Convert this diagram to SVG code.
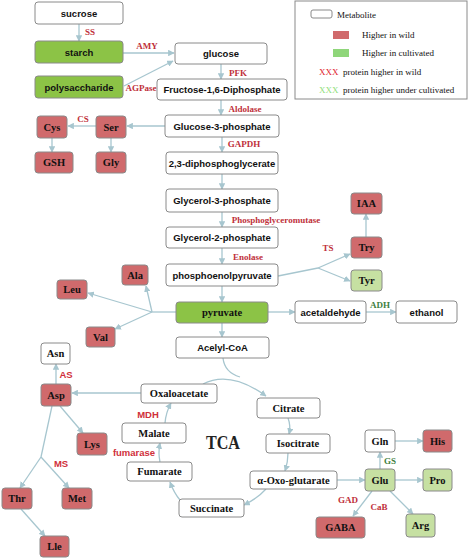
<svg xmlns="http://www.w3.org/2000/svg" width="474" height="560" viewBox="0 0 474 560">
<style>
.b{stroke:#8a8a8a;stroke-width:1;fill:#fff}
.r{fill:#d06a6c}
.g{fill:#8cc346}
.lg{fill:#c6e0a2}
.s{font-family:"Liberation Sans",Arial,sans-serif;font-weight:bold;font-size:9.5px;fill:#111;text-anchor:middle}
.t{font-family:"Liberation Serif","Times New Roman",serif;font-weight:bold;font-size:10.5px;fill:#111;text-anchor:middle}
.le{font-family:"Liberation Serif","Times New Roman",serif;font-weight:bold;font-size:9px;fill:#c0303a;text-anchor:middle}
.ls{font-family:"Liberation Sans",Arial,sans-serif;font-weight:bold;font-size:9.5px;fill:#d0303a;text-anchor:middle}
.lgt{font-family:"Liberation Serif","Times New Roman",serif;font-weight:bold;font-size:9px;fill:#3f7f3f;text-anchor:middle}
.lt{font-family:"Liberation Serif","Times New Roman",serif;font-size:9px;fill:#111}
.c path,.c line,.c polyline{stroke:#a7c6cf;stroke-width:1.3;fill:none}
.a{marker-end:url(#ah)}
</style>
<defs>
<marker id="ah" viewBox="0 0 10 10" refX="9" refY="5" markerWidth="5" markerHeight="5" orient="auto" markerUnits="strokeWidth">
<path d="M0,0 L10,5 L0,10 z" fill="#a7c6cf"/>
</marker>
</defs>
<rect width="474" height="560" fill="#fff"/>

<g id="legend">
<rect x="295" y="1" width="172" height="98" fill="#fff" stroke="#8a8a8a" stroke-width="1"/>
<rect x="311" y="10" width="21" height="8" rx="2" class="b"/>
<text x="337" y="18" class="lt">Metabolite</text>
<rect x="333" y="31" width="16" height="8" class="r"/>
<text x="362" y="38" class="lt">Higher in wild</text>
<rect x="333" y="49" width="16" height="8" fill="#8fd67a"/>
<text x="362" y="56" class="lt">Higher in cultivated</text>
<text x="319" y="75" class="lt" style="fill:#e0202a">XXX</text>
<text x="343" y="75" class="lt">protein higher in wild</text>
<text x="319" y="93" class="lt" style="fill:#8fe07a">XXX</text>
<text x="343" y="93" class="lt">protein higher under cultivated</text>
</g>

<g class="c" id="connectors">
<line x1="79" y1="24" x2="79" y2="41" class="a"/>
<line x1="123" y1="53" x2="174" y2="53" class="a"/>
<line x1="124" y1="86" x2="173" y2="61" class="a"/>
<line x1="221" y1="64" x2="221" y2="79" class="a"/>
<line x1="221" y1="100" x2="221" y2="115" class="a"/>
<line x1="165" y1="126" x2="127" y2="126" class="a"/>
<line x1="96" y1="126" x2="68" y2="126" class="a"/>
<line x1="52" y1="138" x2="52" y2="152" class="a"/>
<line x1="111" y1="138" x2="111" y2="152" class="a"/>
<line x1="222" y1="137" x2="222" y2="152" class="a"/>
<line x1="222" y1="174" x2="222" y2="189" class="a"/>
<line x1="222" y1="212" x2="222" y2="227" class="a"/>
<line x1="222" y1="248" x2="222" y2="264" class="a"/>
<polyline points="278,276 318,268"/>
<line x1="318" y1="268" x2="350" y2="254" class="a"/>
<line x1="318" y1="268" x2="350" y2="281" class="a"/>
<line x1="366" y1="237" x2="366" y2="214" class="a"/>
<line x1="222" y1="286" x2="222" y2="302" class="a"/>
<line x1="268" y1="312" x2="295" y2="312" class="a"/>
<line x1="366" y1="312" x2="396" y2="312" class="a"/>
<line x1="222" y1="323" x2="222" y2="337" class="a"/>
<polyline points="176,312 152,312"/>
<line x1="152" y1="312" x2="88" y2="293" class="a"/>
<line x1="152" y1="312" x2="146" y2="286" class="a"/>
<line x1="152" y1="312" x2="115" y2="329" class="a"/>
<path d="M223,358 C224,368 230,374 240,377"/>
<path d="M203,384 Q230,370 266,396" class="a"/>
<path d="M288,418 Q291,426 289,434" class="a"/>
<path d="M288,453 Q288,462 285,471" class="a"/>
<path d="M266,489 Q258,498 244,505" class="a"/>
<path d="M180,500 Q174,493 170,482" class="a"/>
<path d="M160,462 Q158,453 160,443" class="a"/>
<path d="M165,423 Q166,412 171,403" class="a"/>
<line x1="141" y1="393" x2="72" y2="393" class="a"/>
<line x1="56" y1="384" x2="56" y2="364" class="a"/>
<line x1="60" y1="406" x2="83" y2="433" class="a"/>
<polyline points="52,406 41,457"/>
<line x1="41" y1="457" x2="20" y2="488" class="a"/>
<line x1="41" y1="457" x2="69" y2="488" class="a"/>
<line x1="21" y1="509" x2="45" y2="536" class="a"/>
<line x1="337" y1="480" x2="365" y2="480" class="a"/>
<line x1="380" y1="469" x2="380" y2="452" class="a"/>
<line x1="395" y1="441" x2="423" y2="441" class="a"/>
<line x1="395" y1="480" x2="423" y2="480" class="a"/>
<line x1="372" y1="491" x2="353" y2="516" class="a"/>
<line x1="390" y1="491" x2="413" y2="514" class="a"/>
</g>

<g id="labels">
<text x="90" y="35" class="le">SS</text>
<text x="147" y="49" class="le">AMY</text>
<text x="141" y="91" class="le">AGPase</text>
<text x="238" y="76" class="le">PFK</text>
<text x="245" y="112" class="le">Aldolase</text>
<text x="83" y="122" class="le">CS</text>
<text x="244" y="147" class="le">GAPDH</text>
<text x="276" y="223" class="le">Phosphoglyceromutase</text>
<text x="248" y="260" class="le">Enolase</text>
<text x="328" y="251" class="le">TS</text>
<text x="380" y="308" class="lgt">ADH</text>
<text x="66" y="378" class="ls">AS</text>
<text x="148" y="418" class="ls">MDH</text>
<text x="134" y="456" class="ls">fumarase</text>
<text x="61" y="467" class="ls">MS</text>
<text x="390" y="464" class="lgt">GS</text>
<text x="348" y="503" class="le">GAD</text>
<text x="379" y="510" class="le">CaB</text>
<text x="223" y="449" font-family="Liberation Serif,Times New Roman,serif" font-weight="bold" font-size="19" fill="#222" text-anchor="middle" textLength="34" lengthAdjust="spacingAndGlyphs">TCA</text>
</g>

<g id="sucrose"><rect x="35" y="2" width="88" height="22" rx="3" class="b"/><text x="79" y="16.5" class="s">sucrose</text></g>
<g id="starch"><rect x="35" y="41" width="88" height="22" rx="3" class="b g"/><text x="79" y="55.5" class="s">starch</text></g>
<g id="polysaccharide"><rect x="35" y="76" width="88" height="22" rx="3" class="b g"/><text x="79" y="90.5" class="s">polysaccharide</text></g>
<g id="glucose"><rect x="175" y="43" width="92" height="21" rx="3" class="b"/><text x="221" y="57" class="s">glucose</text></g>
<g id="fructose"><rect x="157" y="79" width="130" height="21" rx="3" class="b"/><text x="222" y="93" class="s">Fructose-1,6-Diphosphate</text></g>
<g id="g3p"><rect x="165" y="115" width="114" height="22" rx="3" class="b"/><text x="222" y="129.5" class="s">Glucose-3-phosphate</text></g>
<g id="cys"><rect x="37" y="116" width="30" height="22" rx="3" class="b r"/><text x="52" y="130.5" class="t">Cys</text></g>
<g id="ser"><rect x="96" y="116" width="30" height="22" rx="3" class="b r"/><text x="111" y="130.5" class="t">Ser</text></g>
<g id="gsh"><rect x="35" y="152" width="38" height="21" rx="3" class="b r"/><text x="54" y="166" class="t">GSH</text></g>
<g id="gly"><rect x="96" y="152" width="30" height="21" rx="3" class="b r"/><text x="111" y="166" class="t">Gly</text></g>
<g id="dpg"><rect x="166" y="152" width="112" height="22" rx="3" class="b"/><text x="222" y="166.5" class="s">2,3-diphosphoglycerate</text></g>
<g id="gly3p"><rect x="166" y="189" width="112" height="23" rx="3" class="b"/><text x="222" y="204" class="s">Glycerol-3-phosphate</text></g>
<g id="gly2p"><rect x="166" y="227" width="112" height="21" rx="3" class="b"/><text x="222" y="241" class="s">Glycerol-2-phosphate</text></g>
<g id="pep"><rect x="166" y="264" width="112" height="22" rx="3" class="b"/><text x="222" y="278.5" class="s">phosphoenolpyruvate</text></g>
<g id="iaa"><rect x="351" y="193" width="31" height="21" rx="3" class="b r"/><text x="366.5" y="207" class="t">IAA</text></g>
<g id="try"><rect x="351" y="237" width="31" height="21" rx="3" class="b r"/><text x="366.5" y="251" class="t">Try</text></g>
<g id="tyr"><rect x="351" y="270" width="31" height="21" rx="3" class="b lg"/><text x="366.5" y="284" class="t">Tyr</text></g>
<g id="pyruvate"><rect x="176" y="302" width="92" height="21" rx="3" class="b g"/><text x="222" y="316" class="t">pyruvate</text></g>
<g id="acetylcoa"><rect x="176" y="337" width="93" height="21" rx="3" class="b"/><text x="222.5" y="351" class="s">Acelyl-CoA</text></g>
<g id="acetaldehyde"><rect x="295" y="301" width="71" height="22" rx="3" class="b"/><text x="330.5" y="315.5" class="s">acetaldehyde</text></g>
<g id="ethanol"><rect x="396" y="301" width="61" height="22" rx="3" class="b"/><text x="426.5" y="315.5" class="s">ethanol</text></g>
<g id="ala"><rect x="122" y="265" width="26" height="20" rx="3" class="b r"/><text x="135" y="278.5" class="t">Ala</text></g>
<g id="leu"><rect x="57" y="280" width="30" height="19" rx="3" class="b r"/><text x="72" y="293" class="t">Leu</text></g>
<g id="val"><rect x="86" y="327" width="29" height="20" rx="3" class="b r"/><text x="100.5" y="340.5" class="t">Val</text></g>
<g id="asn"><rect x="41" y="343" width="29" height="21" rx="3" class="b"/><text x="55.5" y="357" class="t">Asn</text></g>
<g id="asp"><rect x="41" y="384" width="30" height="22" rx="3" class="b r"/><text x="56" y="398.5" class="t">Asp</text></g>
<g id="lys"><rect x="77" y="433" width="30" height="22" rx="3" class="b r"/><text x="92" y="447.5" class="t">Lys</text></g>
<g id="oxaloacetate"><rect x="141" y="384" width="76" height="19" rx="3" class="b"/><text x="179" y="397" class="t">Oxaloacetate</text></g>
<g id="malate"><rect x="122" y="423" width="64" height="20" rx="3" class="b"/><text x="154" y="436.5" class="t">Malate</text></g>
<g id="fumarate"><rect x="127" y="462" width="65" height="19" rx="3" class="b"/><text x="159.5" y="475" class="t">Fumarate</text></g>
<g id="succinate"><rect x="179" y="499" width="65" height="18" rx="3" class="b"/><text x="211.5" y="511.5" class="t">Succinate</text></g>
<g id="citrate"><rect x="257" y="398" width="63" height="20" rx="3" class="b"/><text x="288.5" y="411.5" class="t">Citrate</text></g>
<g id="isocitrate"><rect x="266" y="434" width="64" height="19" rx="3" class="b"/><text x="298" y="447" class="t">Isocitrate</text></g>
<g id="oxoglutarate"><rect x="250" y="471" width="87" height="18" rx="3" class="b"/><text x="293.5" y="483.5" class="t">α-Oxo-glutarate</text></g>
<g id="gln"><rect x="365" y="430" width="30" height="22" rx="3" class="b"/><text x="380" y="444.5" class="t">Gln</text></g>
<g id="his"><rect x="423" y="430" width="29" height="22" rx="3" class="b r"/><text x="437.5" y="444.5" class="t">His</text></g>
<g id="glu"><rect x="365" y="469" width="30" height="22" rx="3" class="b lg"/><text x="380" y="483.5" class="t">Glu</text></g>
<g id="pro"><rect x="423" y="469" width="29" height="22" rx="3" class="b lg"/><text x="437.5" y="483.5" class="t">Pro</text></g>
<g id="gaba"><rect x="316" y="517" width="49" height="21" rx="3" class="b r"/><text x="340.5" y="531" class="t">GABA</text></g>
<g id="arg"><rect x="406" y="514" width="29" height="23" rx="3" class="b lg"/><text x="420.5" y="529" class="t">Arg</text></g>
<g id="thr"><rect x="2" y="488" width="30" height="21" rx="3" class="b r"/><text x="17" y="502" class="t">Thr</text></g>
<g id="met"><rect x="62" y="488" width="30" height="21" rx="3" class="b r"/><text x="77" y="502" class="t">Met</text></g>
<g id="lle"><rect x="40" y="536" width="29" height="21" rx="3" class="b r"/><text x="54.5" y="550" class="t">Lle</text></g>
</svg>
